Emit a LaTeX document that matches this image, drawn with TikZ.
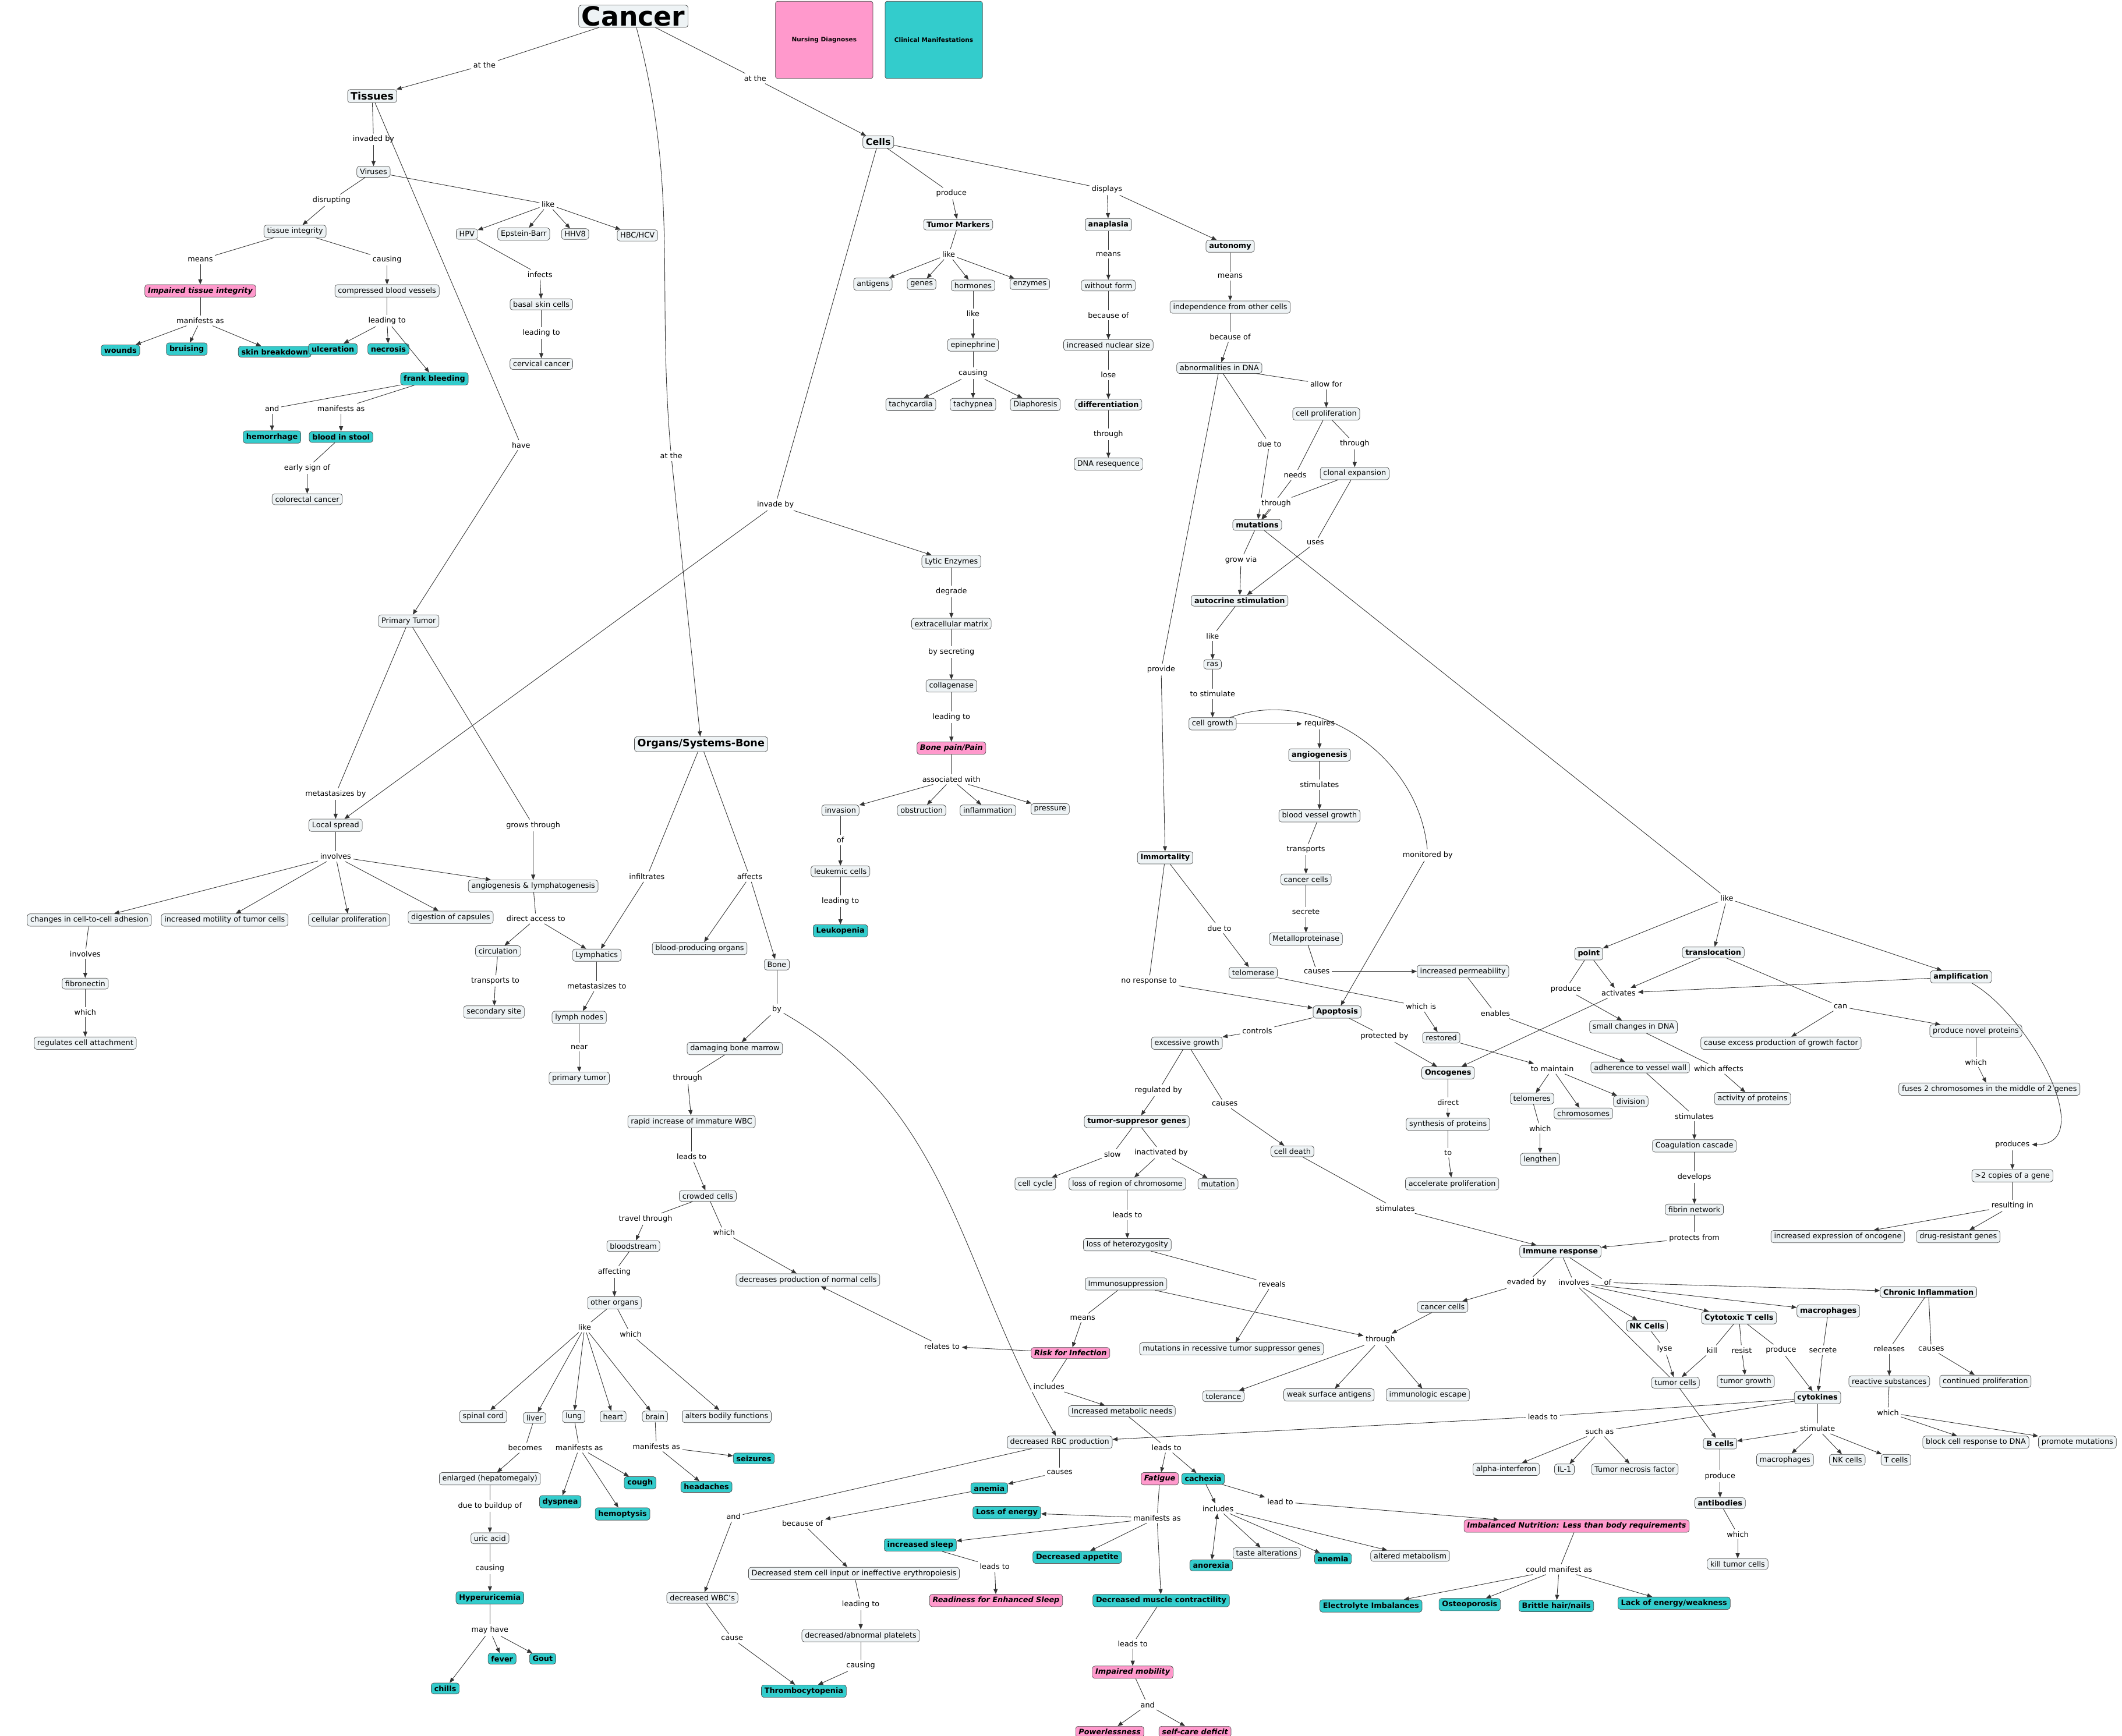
\documentclass[tikz,border=0pt]{standalone}
\usepackage{fontspec}
\setmainfont{DejaVu Sans}
\usetikzlibrary{arrows.meta}
\definecolor{pk}{HTML}{FF99CC}
\definecolor{tl}{HTML}{33CCCC}
\definecolor{cf}{HTML}{EEF3F5}
\tikzset{
 base/.style={font=\fontsize{7.3}{9}\selectfont,inner sep=2pt},
 lk/.style={base,fill=white},
 cn/.style={base,draw=black!70,fill=cf,rounded corners=2.5pt,inner xsep=3pt,inner ysep=2.5pt},
 cb/.style={cn,font=\fontsize{7.3}{9}\selectfont\bfseries},
 nd/.style={cn,fill=pk,font=\fontsize{7.3}{9}\selectfont\bfseries\itshape},
 clin/.style={cn,fill=tl,font=\fontsize{7.3}{9}\selectfont\bfseries},
 ln/.style={draw=black!80,line width=0.5pt},
 ar/.style={ln,-{Triangle[length=5pt,width=4pt]}},
}
\newcommand\LK[4]{\node[lk](#1) at (#2,#3){#4};}
\newcommand\CN[4]{\node[cn](#1) at (#2,#3){#4};}
\newcommand\CB[4]{\node[cb](#1) at (#2,#3){#4};}
\newcommand\ND[4]{\node[nd](#1) at (#2,#3){#4};}
\newcommand\CM[4]{\node[clin](#1) at (#2,#3){#4};}
\newcommand\ED[2]{\draw[ln](#1)--(#2);}
\newcommand\AR[2]{\draw[ar](#1)--(#2);}
\begin{document}
\begin{tikzpicture}[x=0.0465cm,y=-0.0465cm]
\useasboundingbox[fill=white] (0,0) rectangle (1568,1283);
% legend
\node[draw=black!70,fill=pk,rounded corners=2pt,minimum width=72*0.0465cm,minimum height=57*0.0465cm,font=\fontsize{6}{7}\selectfont\bfseries] (leg1) at (609,29.5) {Nursing Diagnoses};
\node[draw=black!70,fill=tl,rounded corners=2pt,minimum width=72*0.0465cm,minimum height=57*0.0465cm,font=\fontsize{6}{7}\selectfont\bfseries] (leg2) at (690,29.5) {Clinical Manifestations};
\node[cn,font=\fontsize{26}{28}\selectfont\bfseries,inner ysep=1pt] (cancer) at (468,12) {Cancer};
\node[cn,font=\fontsize{10}{12}\selectfont\bfseries] (tissues) at (275,71) {Tissues};
\node[cn,font=\fontsize{9}{11}\selectfont\bfseries] (cells) at (649,105) {Cells};
\node[cn,font=\fontsize{10}{12}\selectfont\bfseries] (organs) at (518,550) {Organs/Systems-Bone};
\LK{at1}{358}{48}{at the}\LK{at2}{558}{58}{at the}\LK{at3}{496}{337}{at the}
\ED{cancer}{at1}\AR{at1}{tissues}\ED{cancer}{at2}\AR{at2}{cells}
\draw[ln] (cancer) to[out=-75,in=95] (at3);\AR{at3}{organs}
% tissues branch
\LK{invb}{276}{103}{invaded by}\CN{viruses}{276}{127}{Viruses}
\ED{tissues}{invb}\AR{invb}{viruses}
\LK{have}{385}{329}{have}\CN{ptumor}{302}{459}{Primary Tumor}
\ED{tissues}{have}\AR{have}{ptumor}
\LK{disr}{245}{148}{disrupting}\CN{tint}{218}{171}{tissue integrity}
\ED{viruses}{disr}\AR{disr}{tint}
\LK{like1}{405}{151}{like}\ED{viruses}{like1}
\CN{hpv}{345}{173}{HPV}\CN{ebv}{387}{173}{Epstein-Barr}\CN{hhv}{425}{173}{HHV8}\CN{hbc}{471}{174}{HBC/HCV}
\AR{like1}{hpv}\AR{like1}{ebv}\AR{like1}{hhv}\AR{like1}{hbc}
\LK{inf}{399}{203}{infects}\CN{basal}{400}{225}{basal skin cells}\LK{lt1}{400}{246}{leading to}\CN{cerv}{400}{269}{cervical cancer}
\ED{hpv}{inf}\AR{inf}{basal}\ED{basal}{lt1}\AR{lt1}{cerv}
\LK{means1}{148}{192}{means}\ND{iti}{148}{215}{Impaired tissue integrity}
\ED{tint}{means1}\AR{means1}{iti}
\LK{caus1}{286}{192}{causing}\CN{cbv}{286}{215}{compressed blood vessels}
\ED{tint}{caus1}\AR{caus1}{cbv}
\LK{ma1}{148}{237}{manifests as}\ED{iti}{ma1}
\CM{wounds}{89}{259}{wounds}\CM{bruis}{138}{258}{bruising}\CM{skinb}{203}{260}{skin breakdown}
\AR{ma1}{wounds}\AR{ma1}{bruis}\AR{ma1}{skinb}
\LK{lt2}{286}{237}{leading to}\ED{cbv}{lt2}
\CM{ulc}{246}{258}{ulceration}\CM{necr}{287}{258}{necrosis}\CM{frank}{321}{280}{frank bleeding}
\AR{lt2}{ulc}\AR{lt2}{necr}\AR{lt2}{frank}
\LK{and1}{201}{302}{and}\CM{hemo}{201}{323}{hemorrhage}\ED{frank}{and1}\AR{and1}{hemo}
\LK{ma2}{252}{302}{manifests as}\CM{blood}{252}{323}{blood in stool}\ED{frank}{ma2}\AR{ma2}{blood}
\LK{early}{227}{346}{early sign of}\CN{colo}{227}{369}{colorectal cancer}\ED{blood}{early}\AR{early}{colo}
% primary tumor
\LK{metb}{248}{587}{metastasizes by}\CN{local}{248}{610}{Local spread}\ED{ptumor}{metb}\AR{metb}{local}
\LK{grows}{394}{610}{grows through}\CN{angl}{394}{655}{angiogenesis \& lymphatogenesis}\ED{ptumor}{grows}\AR{grows}{angl}
\LK{invade}{573}{373}{invade by}\ED{cells}{invade}\AR{invade}{local}
\CN{lytic}{703}{415}{Lytic Enzymes}\AR{invade}{lytic}
\LK{inv1}{248}{633}{involves}\ED{local}{inv1}
\CN{chg}{66}{680}{changes in cell-to-cell adhesion}\CN{motil}{166}{680}{increased motility of tumor cells}
\CN{cprol}{258}{680}{cellular proliferation}\CN{digc}{333}{678}{digestion of capsules}
\AR{inv1}{chg}\AR{inv1}{motil}\AR{inv1}{cprol}\AR{inv1}{digc}\AR{inv1}{angl}
\LK{inv2}{63}{705}{involves}\CN{fibro}{63}{727}{fibronectin}\LK{which1}{63}{748}{which}\CN{regc}{63}{771}{regulates cell attachment}
\ED{chg}{inv2}\AR{inv2}{fibro}\ED{fibro}{which1}\AR{which1}{regc}
\LK{dacc}{396}{679}{direct access to}\ED{angl}{dacc}
\CN{circ}{368}{703}{circulation}\CN{lymph}{441}{706}{Lymphatics}\AR{dacc}{circ}\AR{dacc}{lymph}
\LK{trt}{366}{725}{transports to}\CN{secs}{365}{748}{secondary site}\ED{circ}{trt}\AR{trt}{secs}
\LK{mett}{441}{729}{metastasizes to}\CN{lnodes}{428}{752}{lymph nodes}\LK{near}{428}{774}{near}\CN{ptum2}{428}{797}{primary tumor}
\ED{lymph}{mett}\AR{mett}{lnodes}\ED{lnodes}{near}\AR{near}{ptum2}
% organs
\LK{infil}{478}{648}{infiltrates}\ED{organs}{infil}\AR{infil}{lymph}
\LK{aff}{554}{648}{affects}\ED{organs}{aff}
\CN{bpo}{517}{701}{blood-producing organs}\CN{bone}{574}{713}{Bone}\AR{aff}{bpo}\AR{aff}{bone}
\LK{by}{574}{746}{by}\ED{bone}{by}
\CN{dbm}{543}{775}{damaging bone marrow}\AR{by}{dbm}
\CN{drbc}{783}{1066}{decreased RBC production}
\draw[ar] (by) to[out=-30,in=120] (drbc);
\LK{thr1}{508}{797}{through}\CN{rapid}{511}{829}{rapid increase of immature WBC}\ED{dbm}{thr1}\AR{thr1}{rapid}
\LK{lt3}{511}{855}{leads to}\CN{crowd}{523}{884}{crowded cells}\ED{rapid}{lt3}\AR{lt3}{crowd}
\LK{trav}{477}{901}{travel through}\CN{bstr}{468}{921}{bloodstream}\ED{crowd}{trav}\AR{trav}{bstr}
\LK{which2}{535}{911}{which}\CN{dpnc}{597}{946}{decreases production of normal cells}\ED{crowd}{which2}\AR{which2}{dpnc}
\LK{affg}{454}{940}{affecting}\CN{other}{454}{963}{other organs}\ED{bstr}{affg}\AR{affg}{other}
\LK{like2}{432}{981}{like}\LK{which3}{466}{986}{which}\ED{other}{like2}\ED{other}{which3}
\CN{spinal}{357}{1047}{spinal cord}\CN{liver}{395}{1048}{liver}\CN{lung}{424}{1047}{lung}\CN{heart}{453}{1047}{heart}\CN{brain}{484}{1047}{brain}
\AR{like2}{spinal}\AR{like2}{liver}\AR{like2}{lung}\AR{like2}{heart}\AR{like2}{brain}
\CN{alters}{537}{1047}{alters bodily functions}\AR{which3}{alters}
\LK{becomes}{388}{1070}{becomes}\CN{enl}{362}{1093}{enlarged (hepatomegaly)}\ED{liver}{becomes}\AR{becomes}{enl}
\LK{dueb}{362}{1113}{due to buildup of}\CN{uric}{362}{1137}{uric acid}\ED{enl}{dueb}\AR{dueb}{uric}
\LK{caus2}{362}{1159}{causing}\CM{hyper}{362}{1181}{Hyperuricemia}\ED{uric}{caus2}\AR{caus2}{hyper}
\LK{mayh}{362}{1205}{may have}\ED{hyper}{mayh}
\CM{chills}{329}{1248}{chills}\CM{fever}{371}{1226}{fever}\CM{gout}{401}{1226}{Gout}
\AR{mayh}{chills}\AR{mayh}{fever}\AR{mayh}{gout}
\LK{ma3}{428}{1070}{manifests as}\ED{lung}{ma3}
\CM{dysp}{414}{1110}{dyspnea}\CM{hemop}{460}{1119}{hemoptysis}\CM{cough}{473}{1096}{cough}
\AR{ma3}{dysp}\AR{ma3}{hemop}\AR{ma3}{cough}
\LK{ma4}{485}{1069}{manifests as}\ED{brain}{ma4}
\CM{seiz}{557}{1078}{seizures}\CM{head}{522}{1099}{headaches}\AR{ma4}{seiz}\AR{ma4}{head}
% lytic
\LK{degr}{703}{437}{degrade}\CN{ecm}{703}{461}{extracellular matrix}\ED{lytic}{degr}\AR{degr}{ecm}
\LK{bysec}{703}{482}{by secreting}\CN{coll}{703}{507}{collagenase}\ED{ecm}{bysec}\AR{bysec}{coll}
\LK{lt4}{703}{530}{leading to}\ND{bpain}{703}{553}{Bone pain/Pain}\ED{coll}{lt4}\AR{lt4}{bpain}
\LK{assoc}{703}{576}{associated with}\ED{bpain}{assoc}
\CN{invas}{621}{599}{invasion}\CN{obst}{681}{599}{obstruction}\CN{infl}{730}{599}{inflammation}\CN{press}{776}{598}{pressure}
\AR{assoc}{invas}\AR{assoc}{obst}\AR{assoc}{infl}\AR{assoc}{press}
\LK{of1}{621}{621}{of}\CN{leuk}{621}{644}{leukemic cells}\ED{invas}{of1}\AR{of1}{leuk}
\LK{lt5}{621}{666}{leading to}\CM{leukp}{621}{688}{Leukopenia}\ED{leuk}{lt5}\AR{lt5}{leukp}
% cells
\LK{prod1}{703}{143}{produce}\CB{tmark}{708}{166}{Tumor Markers}\ED{cells}{prod1}\AR{prod1}{tmark}
\LK{like3}{701}{188}{like}\ED{tmark}{like3}
\CN{antig}{645}{210}{antigens}\CN{genes}{681}{210}{genes}\CN{horm}{719}{211}{hormones}\CN{enz}{761}{210}{enzymes}
\AR{like3}{antig}\AR{like3}{genes}\AR{like3}{horm}\AR{like3}{enz}
\LK{like4}{719}{232}{like}\CN{epi}{719}{255}{epinephrine}\ED{horm}{like4}\AR{like4}{epi}
\LK{caus3}{719}{276}{causing}\ED{epi}{caus3}
\CN{tachy}{673}{299}{tachycardia}\CN{tachp}{719}{299}{tachypnea}\CN{diaph}{765}{299}{Diaphoresis}
\AR{caus3}{tachy}\AR{caus3}{tachp}\AR{caus3}{diaph}
\LK{disp}{818}{140}{displays}\ED{cells}{disp}
\CB{anap}{819}{166}{anaplasia}\CB{auto}{909}{182}{autonomy}\AR{disp}{anap}\AR{disp}{auto}
\LK{means2}{819}{188}{means}\CN{wform}{819}{211}{without form}\ED{anap}{means2}\AR{means2}{wform}
\LK{bc1}{819}{233}{because of}\CN{ins}{819}{255}{increased nuclear size}\ED{wform}{bc1}\AR{bc1}{ins}
\LK{lose}{819}{277}{lose}\CB{diff}{819}{299}{differentiation}\ED{ins}{lose}\AR{lose}{diff}
\LK{thr2}{819}{321}{through}\CN{dnar}{819}{343}{DNA resequence}\ED{diff}{thr2}\AR{thr2}{dnar}
\LK{means3}{909}{204}{means}\CN{indep}{909}{227}{independence from other cells}\ED{auto}{means3}\AR{means3}{indep}
\LK{bc2}{909}{249}{because of}\CN{abn}{901}{272}{abnormalities in DNA}\ED{indep}{bc2}\AR{bc2}{abn}
\LK{allow}{980}{284}{allow for}\CN{cprol2}{980}{306}{cell proliferation}\ED{abn}{allow}\AR{allow}{cprol2}
\LK{dueto1}{938}{328}{due to}\CB{mut}{929}{388}{mutations}\ED{abn}{dueto1}\AR{dueto1}{mut}
\LK{prov}{858}{495}{provide}\CB{immort}{861}{634}{Immortality}\ED{abn}{prov}\AR{prov}{immort}
\LK{needs}{957}{351}{needs}\ED{cprol2}{needs}\AR{needs}{mut}
\LK{thr3}{1001}{328}{through}\CN{clon}{1001}{350}{clonal expansion}\ED{cprol2}{thr3}\AR{thr3}{clon}
\LK{thr4}{943}{372}{through}\ED{clon}{thr4}\AR{thr4}{mut}
\LK{uses}{972}{401}{uses}\CB{autoc}{916}{444}{autocrine stimulation}\ED{clon}{uses}\AR{uses}{autoc}
\LK{grow}{917}{414}{grow via}\ED{mut}{grow}\AR{grow}{autoc}
\LK{like5}{896}{470}{like}\CN{ras}{896}{491}{ras}\ED{autoc}{like5}\AR{like5}{ras}
\LK{tostim}{896}{513}{to stimulate}\CN{cgrow}{896}{535}{cell growth}\ED{ras}{tostim}\AR{tostim}{cgrow}
\LK{req}{975}{535}{requires}\CB{angio}{975}{558}{angiogenesis}\AR{cgrow}{req}\AR{req}{angio}
\LK{stim1}{975}{580}{stimulates}\CN{bvg}{975}{603}{blood vessel growth}\ED{angio}{stim1}\AR{stim1}{bvg}
\LK{transp}{965}{628}{transports}\CN{ccells}{965}{650}{cancer cells}\ED{bvg}{transp}\AR{transp}{ccells}
\LK{secr}{965}{674}{secrete}\CN{metal}{965}{694}{Metalloproteinase}\ED{ccells}{secr}\AR{secr}{metal}
\LK{caus4}{973}{718}{causes}\CN{iperm}{1081}{718}{increased permeability}\ED{metal}{caus4}\AR{caus4}{iperm}
\LK{monit}{1055}{632}{monitored by}\CB{apop}{988}{748}{Apoptosis}
\draw[ln] (cgrow) to[out=20,in=95] (monit);\AR{monit}{apop}
\LK{nores}{849}{725}{no response to}\ED{immort}{nores}\AR{nores}{apop}
\LK{dueto2}{901}{686}{due to}\CN{telase}{926}{719}{telomerase}\ED{immort}{dueto2}\AR{dueto2}{telase}
\LK{whichis}{1050}{744}{which is}\CN{restored}{1065}{767}{restored}\ED{telase}{whichis}\AR{whichis}{restored}
\LK{contr}{929}{762}{controls}\CN{exg}{877}{771}{excessive growth}\ED{apop}{contr}\AR{contr}{exg}
\LK{protb}{1023}{766}{protected by}\CB{onco}{1070}{793}{Oncogenes}\ED{apop}{protb}\AR{protb}{onco}
\LK{enab}{1105}{749}{enables}\CN{adh}{1212}{789}{adherence to vessel wall}\ED{iperm}{enab}\AR{enab}{adh}
\LK{regb}{856}{806}{regulated by}\CB{tsg}{840}{829}{tumor-suppresor genes}\ED{exg}{regb}\AR{regb}{tsg}
\LK{caus5}{905}{816}{causes}\CN{cdeath}{955}{851}{cell death}\ED{exg}{caus5}\AR{caus5}{cdeath}
\LK{stim2}{1031}{893}{stimulates}\CB{immune}{1153}{925}{Immune response}\ED{cdeath}{stim2}\AR{stim2}{immune}
\LK{slow}{822}{853}{slow}\CN{ccyc}{765}{875}{cell cycle}\ED{tsg}{slow}\AR{slow}{ccyc}
\LK{inact}{858}{852}{inactivated by}\ED{tsg}{inact}
\CN{lroc}{833}{875}{loss of region of chromosome}\CN{mutn}{900}{875}{mutation}\AR{inact}{lroc}\AR{inact}{mutn}
\LK{lt6}{833}{898}{leads to}\CN{loh}{833}{920}{loss of heterozygosity}\ED{lroc}{lt6}\AR{lt6}{loh}
\LK{rev}{940}{949}{reveals}\CN{mrts}{910}{997}{mutations in recessive tumor suppressor genes}\ED{loh}{rev}\AR{rev}{mrts}
\CN{imsup}{832}{949}{Immunosuppression}
\LK{means4}{800}{974}{means}\ND{rinf}{791}{1000}{Risk for Infection}\ED{imsup}{means4}\AR{means4}{rinf}
\LK{thr5}{1020}{990}{through}\AR{imsup}{thr5}
\CN{toler}{904}{1032}{tolerance}\CN{weak}{982}{1031}{weak surface antigens}\CN{imesc}{1055}{1031}{immunologic escape}
\AR{thr5}{toler}\AR{thr5}{weak}\AR{thr5}{imesc}
\LK{rel}{696}{995}{relates to}\AR{rinf}{rel}\AR{rel}{dpnc}
\LK{incl}{775}{1025}{includes}\CN{imn}{829}{1043}{Increased metabolic needs}\ED{rinf}{incl}\AR{incl}{imn}
\LK{lt7}{862}{1070}{leads to}\ED{imn}{lt7}
\ND{fatig}{857}{1093}{Fatigue}\CM{cach}{889}{1093}{cachexia}\AR{lt7}{fatig}\AR{lt7}{cach}
\LK{direct}{1070}{815}{direct}\CN{synp}{1070}{831}{synthesis of proteins}\ED{onco}{direct}\AR{direct}{synp}
\LK{to1}{1070}{852}{to}\CN{accp}{1073}{875}{accelerate proliferation}\ED{synp}{to1}\AR{to1}{accp}
\LK{tomain}{1147}{790}{to maintain}\AR{restored}{tomain}
\CN{telo}{1132}{812}{telomeres}\CN{chrom}{1170}{823}{chromosomes}\CN{divis}{1205}{814}{division}
\AR{tomain}{telo}\AR{tomain}{chrom}\AR{tomain}{divis}
\LK{which4}{1138}{834}{which}\CN{length}{1138}{857}{lengthen}\ED{telo}{which4}\AR{which4}{length}
\LK{stim3}{1252}{825}{stimulates}\CN{coag}{1252}{847}{Coagulation cascade}\ED{adh}{stim3}\AR{stim3}{coag}
\LK{devel}{1252}{870}{develops}\CN{fibrin}{1252}{894}{fibrin network}\ED{coag}{devel}\AR{devel}{fibrin}
\LK{protf}{1252}{915}{protects from}\ED{fibrin}{protf}\AR{protf}{immune}
% mutations like
\LK{like6}{1276}{664}{like}\ED{mut}{like6}
\CB{point}{1174}{705}{point}\CB{transl}{1266}{704}{translocation}\CB{ampl}{1449}{722}{amplification}
\AR{like6}{point}\AR{like6}{transl}\AR{like6}{ampl}
\LK{activ}{1196}{734}{activates}\AR{point}{activ}\AR{transl}{activ}\AR{ampl}{activ}\AR{activ}{onco}
\LK{prod2}{1157}{731}{produce}\CN{smch}{1207}{759}{small changes in DNA}\ED{point}{prod2}\AR{prod2}{smch}
\LK{whaff}{1270}{790}{which affects}\CN{actp}{1295}{812}{activity of proteins}\ED{smch}{whaff}\AR{whaff}{actp}
\LK{can}{1360}{744}{can}\ED{transl}{can}
\CN{cepg}{1316}{771}{cause excess production of growth factor}\CN{pnp}{1460}{762}{produce novel proteins}\AR{can}{cepg}\AR{can}{pnp}
\LK{which5}{1460}{785}{which}\CN{fuses}{1470}{805}{fuses 2 chromosomes in the middle of 2 genes}\ED{pnp}{which5}\AR{which5}{fuses}
\LK{prods}{1487}{846}{produces}\draw[ar] (ampl) to[out=-30,in=0] (prods);
\CN{copies}{1487}{869}{>2 copies of a gene}\AR{prods}{copies}
\LK{resin}{1487}{891}{resulting in}\ED{copies}{resin}
\CN{ieo}{1358}{914}{increased expression of oncogene}\CN{drg}{1447}{914}{drug-resistant genes}\AR{resin}{ieo}\AR{resin}{drg}
% immune
\LK{evad}{1128}{948}{evaded by}\CN{ccells2}{1066}{966}{cancer cells}\ED{immune}{evad}\AR{evad}{ccells2}\AR{ccells2}{thr5}
\LK{inv3}{1163}{948}{involves}\LK{of2}{1188}{948}{of}\ED{immune}{inv3}\ED{immune}{of2}
\CB{nk}{1217}{980}{NK Cells}\CB{ctc}{1285}{974}{Cytotoxic T cells}\CB{macro}{1351}{969}{macrophages}
\CN{tcells}{1238}{1022}{tumor cells}
\AR{inv3}{nk}\AR{inv3}{ctc}\AR{inv3}{macro}\ED{inv3}{tcells}
\CB{chronic}{1425}{955}{Chronic Inflammation}\AR{of2}{chronic}
\LK{lyse}{1230}{997}{lyse}\ED{nk}{lyse}\AR{lyse}{tcells}
\LK{kill}{1265}{998}{kill}\ED{ctc}{kill}\AR{kill}{tcells}
\LK{resist}{1287}{998}{resist}\CN{tgrow}{1290}{1021}{tumor growth}\ED{ctc}{resist}\AR{resist}{tgrow}
\LK{prod3}{1316}{998}{produce}\CB{cyto}{1343}{1033}{cytokines}\ED{ctc}{prod3}\AR{prod3}{cyto}
\LK{secr2}{1347}{998}{secrete}\ED{macro}{secr2}\AR{secr2}{cyto}
\CB{bcells}{1271}{1067}{B cells}\AR{tcells}{bcells}
\LK{lt8}{1140}{1047}{leads to}\ED{cyto}{lt8}\AR{lt8}{drbc}
\LK{such}{1182}{1058}{such as}\ED{cyto}{such}
\CN{alpha}{1113}{1086}{alpha-interferon}\CN{il1}{1156}{1086}{IL-1}\CN{tnf}{1208}{1086}{Tumor necrosis factor}
\AR{such}{alpha}\AR{such}{il1}\AR{such}{tnf}
\LK{stim4}{1343}{1056}{stimulate}\ED{cyto}{stim4}
\CN{macro2}{1319}{1079}{macrophages}\CN{nk2}{1365}{1079}{NK cells}\CN{tc2}{1401}{1079}{T cells}
\AR{stim4}{bcells}\AR{stim4}{macro2}\AR{stim4}{nk2}\AR{stim4}{tc2}
\LK{prod4}{1271}{1091}{produce}\CB{antib}{1271}{1111}{antibodies}\ED{bcells}{prod4}\AR{prod4}{antib}
\LK{which6}{1284}{1134}{which}\CN{ktc}{1284}{1156}{kill tumor cells}\ED{antib}{which6}\AR{which6}{ktc}
\LK{rel2}{1396}{997}{releases}\CN{reac}{1396}{1021}{reactive substances}\ED{chronic}{rel2}\AR{rel2}{reac}
\LK{caus6}{1427}{997}{causes}\CN{contp}{1467}{1021}{continued proliferation}\ED{chronic}{caus6}\AR{caus6}{contp}
\LK{which7}{1395}{1044}{which}\ED{reac}{which7}
\CN{block}{1460}{1066}{block cell response to DNA}\CN{promm}{1535}{1066}{promote mutations}\AR{which7}{block}\AR{which7}{promm}
% bottom
\LK{caus7}{783}{1088}{causes}\CM{anem}{731}{1100}{anemia}\ED{drbc}{caus7}\AR{caus7}{anem}
\LK{and2}{542}{1121}{and}\CN{dwbc}{519}{1181}{decreased WBC's}\ED{drbc}{and2}\AR{and2}{dwbc}
\LK{cause1}{541}{1211}{cause}\CM{thromb}{594}{1250}{Thrombocytopenia}\ED{dwbc}{cause1}\AR{cause1}{thromb}
\LK{bc3}{593}{1126}{because of}\AR{anem}{bc3}
\CN{dsc}{631}{1163}{Decreased stem cell input or ineffective erythropoiesis}\AR{bc3}{dsc}
\LK{lt9}{636}{1186}{leading to}\CN{dap}{636}{1209}{decreased/abnormal platelets}\ED{dsc}{lt9}\AR{lt9}{dap}
\LK{caus8}{636}{1231}{causing}\ED{dap}{caus8}\AR{caus8}{thromb}
\LK{ma5}{855}{1122}{manifests as}\ED{fatig}{ma5}
\CM{loe}{744}{1118}{Loss of energy}\CM{isl}{680}{1142}{increased sleep}\CM{dapp}{796}{1151}{Decreased appetite}\CM{dmc}{858}{1183}{Decreased muscle contractility}
\AR{ma5}{loe}\AR{ma5}{isl}\AR{ma5}{dapp}\AR{ma5}{dmc}
\LK{lt10}{735}{1158}{leads to}\ND{res}{736}{1183}{Readiness for Enhanced Sleep}\ED{isl}{lt10}\AR{lt10}{res}
\LK{lt11}{837}{1215}{leads to}\ND{imob}{837}{1236}{Impaired mobility}\ED{dmc}{lt11}\AR{lt11}{imob}
\LK{and3}{848}{1260}{and}\ND{power}{820}{1280}{Powerlessness}\ND{selfc}{883}{1280}{self-care deficit}
\ED{imob}{and3}\AR{and3}{power}\AR{and3}{selfc}
\LK{incl2}{900}{1115}{includes}\AR{cach}{incl2}
\CM{anor}{895}{1157}{anorexia}\CN{taste}{936}{1148}{taste alterations}\CM{anem2}{985}{1152}{anemia}\CN{altm}{1042}{1150}{altered metabolism}
\draw[ln,{Triangle[length=5pt,width=4pt]}-{Triangle[length=5pt,width=4pt]}](incl2)--(anor);
\AR{incl2}{taste}\AR{incl2}{anem2}\AR{incl2}{altm}
\LK{leadto}{946}{1110}{lead to}\ND{imbal}{1165}{1128}{Imbalanced Nutrition: Less than body requirements}\AR{cach}{leadto}\AR{leadto}{imbal}
\LK{could}{1152}{1160}{could manifest as}\ED{imbal}{could}
\CM{elec}{1013}{1187}{Electrolyte Imbalances}\CM{osteo}{1086}{1186}{Osteoporosis}\CM{brit}{1150}{1187}{Brittle hair/nails}\CM{lack}{1237}{1185}{Lack of energy/weakness}
\AR{could}{elec}\AR{could}{osteo}\AR{could}{brit}\AR{could}{lack}
\end{tikzpicture}
\end{document}
